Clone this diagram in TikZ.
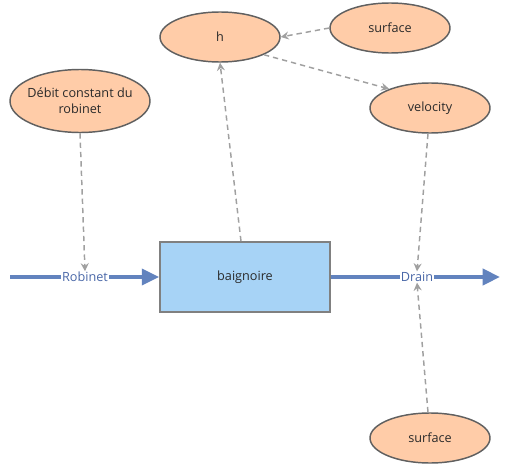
\documentclass[tikz,border=0pt]{standalone}
\usepackage{fontspec}
\setmainfont{Open Sans}
\usetikzlibrary{arrows.meta,shapes.geometric}
\definecolor{peach}{HTML}{FFCCA8}
\definecolor{edgegray}{HTML}{606060}
\definecolor{boxblue}{HTML}{A7D3F6}
\definecolor{flowblue}{HTML}{6283BE}
\definecolor{flowtxt}{HTML}{4A68A8}
\definecolor{dashgray}{HTML}{A0A0A0}
\definecolor{txt}{HTML}{2A2A2A}
\tikzset{
  var/.style={ellipse, draw=edgegray, fill=peach, line width=1.1pt, minimum width=120*0.75pt, minimum height=50*0.75pt, inner sep=0pt, text=txt, font=\fontsize{9.5}{12}\selectfont, align=center},
  stock/.style={rectangle, draw=gray, fill=boxblue, line width=1.3pt, minimum width=170*0.75pt, minimum height=70*0.75pt, text=txt, font=\fontsize{9.5}{12}\selectfont},
  flowlbl/.style={fill=white, inner sep=0.5pt, text=flowtxt, font=\fontsize{9.5}{12}\selectfont},
  flowline/.style={draw=flowblue, line width=2.8pt},
  flowarrow/.style={flowline, -{Triangle[length=13pt,width=12pt]}},
  link/.style={draw=dashgray, line width=1.1pt, dash pattern=on 4pt off 3pt, -{Stealth[length=6pt,width=6pt,inset=2pt]}},
}
\begin{document}
\begin{tikzpicture}[x=0.75pt,y=-0.75pt]
\useasboundingbox (0,0) rectangle (511,464);
\node[stock] (bath) at (245,277) {baignoire};
\node[var] (h) at (220,37) {h};
\node[var] (surf1) at (390,28) {surface};
\node[var, inner xsep=-10pt, inner ysep=-2pt, minimum width=140*0.75pt, minimum height=63*0.75pt] (debit) at (80,101) {Débit constant du\\robinet};
\node[var] (vel) at (430,108) {velocity};
\node[var] (surf2) at (430,438) {surface};
\coordinate (src) at (10,277);
\coordinate (sink) at (500,277);
\node[flowlbl] (robinet) at (85,277) {Robinet};
\node[flowlbl] (drain) at (417,277) {Drain};
\draw[flowline] (src) -- (robinet);
\draw[flowarrow] (robinet) -- (bath);
\draw[flowline] (bath) -- (drain);
\draw[flowarrow] (drain) -- (sink);
\draw[link] (debit.south) -- (robinet.north);
\draw[link] ([xshift=-4*0.75pt]bath.north) -- (h.south);
\draw[link] (surf1.west) -- (h.east);
\draw[link] (h.-22) -- (vel.155);
\draw[link] ([xshift=-2*0.75pt]vel.south) -- (drain.north);
\draw[link] ([xshift=-2*0.75pt]surf2.north) -- (drain.south);
\end{tikzpicture}
\end{document}
